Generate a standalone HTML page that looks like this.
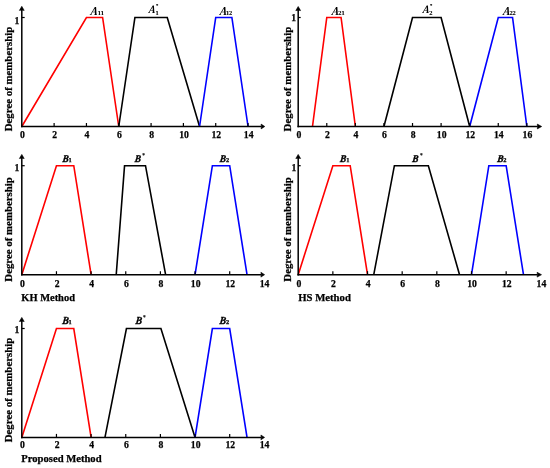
<!DOCTYPE html>
<html><head><meta charset="utf-8"><style>
html,body{margin:0;padding:0;background:#fff;}
body{width:550px;height:468px;overflow:hidden;}
svg{display:block;filter:blur(0.3px);}
svg text{font-family:'Liberation Serif', 'Times New Roman', serif;font-weight:bold;fill:#000;stroke:#000;stroke-width:0.25px;}
</style></head><body>
<svg width="550" height="468" viewBox="0 0 550 468">
<rect width="550" height="468" fill="#fff"/>
<polyline points="21.80,126.50 86.44,17.50 102.60,17.50 118.76,126.50" fill="none" stroke="#ff0000" stroke-width="1.6" stroke-linejoin="miter"/>
<polyline points="118.76,126.50 134.92,17.50 167.24,17.50 199.56,126.50" fill="none" stroke="#000000" stroke-width="1.6" stroke-linejoin="miter"/>
<polyline points="199.56,126.50 215.72,17.50 231.88,17.50 248.04,126.50" fill="none" stroke="#0000ff" stroke-width="1.6" stroke-linejoin="miter"/>
<line x1="21.80" y1="9.90" x2="21.80" y2="127.25" stroke="#000000" stroke-width="1.5"/>
<line x1="21.05" y1="126.50" x2="261.60" y2="126.50" stroke="#000000" stroke-width="1.5"/>
<polygon points="21.80,6.30 19.40,10.40 21.80,10.05 24.20,10.40" fill="#000" stroke="#000" stroke-width="0.6" stroke-linejoin="round"/>
<polygon points="264.80,126.50 261.10,124.10 261.45,126.50 261.10,128.90" fill="#000" stroke="#000" stroke-width="0.6" stroke-linejoin="round"/>
<line x1="21.80" y1="17.50" x2="24.70" y2="17.50" stroke="#000000" stroke-width="1.2"/>
<text x="17.00" y="24.30" font-size="9.7" text-anchor="middle" >1</text>
<line x1="54.12" y1="126.50" x2="54.12" y2="123.00" stroke="#000000" stroke-width="1.2"/>
<line x1="86.44" y1="126.50" x2="86.44" y2="123.00" stroke="#000000" stroke-width="1.2"/>
<line x1="118.76" y1="126.50" x2="118.76" y2="123.00" stroke="#000000" stroke-width="1.2"/>
<line x1="151.08" y1="126.50" x2="151.08" y2="123.00" stroke="#000000" stroke-width="1.2"/>
<line x1="183.40" y1="126.50" x2="183.40" y2="123.00" stroke="#000000" stroke-width="1.2"/>
<line x1="215.72" y1="126.50" x2="215.72" y2="123.00" stroke="#000000" stroke-width="1.2"/>
<line x1="248.04" y1="126.50" x2="248.04" y2="123.00" stroke="#000000" stroke-width="1.2"/>
<text x="22.40" y="137.80" font-size="9.7" text-anchor="middle" >0</text>
<text x="54.72" y="137.80" font-size="9.7" text-anchor="middle" >2</text>
<text x="87.04" y="137.80" font-size="9.7" text-anchor="middle" >4</text>
<text x="119.36" y="137.80" font-size="9.7" text-anchor="middle" >6</text>
<text x="151.68" y="137.80" font-size="9.7" text-anchor="middle" >8</text>
<text x="184.00" y="137.80" font-size="9.7" text-anchor="middle" >10</text>
<text x="216.32" y="137.80" font-size="9.7" text-anchor="middle" >12</text>
<text x="248.64" y="137.80" font-size="9.7" text-anchor="middle" >14</text>
<text x="0" y="0" font-size="10.85" text-anchor="middle" transform="translate(12.30,79.00) rotate(-90)">Degree of membership</text>
<polyline points="312.49,126.50 326.78,17.50 341.07,17.50 355.36,126.50" fill="none" stroke="#ff0000" stroke-width="1.6" stroke-linejoin="miter"/>
<polyline points="383.94,126.50 412.52,17.50 441.10,17.50 469.68,126.50" fill="none" stroke="#000000" stroke-width="1.6" stroke-linejoin="miter"/>
<polyline points="469.68,126.50 498.26,17.50 512.55,17.50 526.84,126.50" fill="none" stroke="#0000ff" stroke-width="1.6" stroke-linejoin="miter"/>
<line x1="298.20" y1="10.10" x2="298.20" y2="127.25" stroke="#000000" stroke-width="1.5"/>
<line x1="297.45" y1="126.50" x2="537.80" y2="126.50" stroke="#000000" stroke-width="1.5"/>
<polygon points="298.20,6.50 295.80,10.60 298.20,10.25 300.60,10.60" fill="#000" stroke="#000" stroke-width="0.6" stroke-linejoin="round"/>
<polygon points="541.70,126.50 537.30,124.10 537.65,126.50 537.30,128.90" fill="#000" stroke="#000" stroke-width="0.6" stroke-linejoin="round"/>
<line x1="298.20" y1="17.50" x2="300.70" y2="17.50" stroke="#000000" stroke-width="1.2"/>
<text x="293.70" y="21.20" font-size="9.7" text-anchor="middle" >1</text>
<line x1="326.78" y1="126.50" x2="326.78" y2="123.00" stroke="#000000" stroke-width="1.2"/>
<line x1="355.36" y1="126.50" x2="355.36" y2="123.00" stroke="#000000" stroke-width="1.2"/>
<line x1="383.94" y1="126.50" x2="383.94" y2="123.00" stroke="#000000" stroke-width="1.2"/>
<line x1="412.52" y1="126.50" x2="412.52" y2="123.00" stroke="#000000" stroke-width="1.2"/>
<line x1="441.10" y1="126.50" x2="441.10" y2="123.00" stroke="#000000" stroke-width="1.2"/>
<line x1="469.68" y1="126.50" x2="469.68" y2="123.00" stroke="#000000" stroke-width="1.2"/>
<line x1="498.26" y1="126.50" x2="498.26" y2="123.00" stroke="#000000" stroke-width="1.2"/>
<line x1="526.84" y1="126.50" x2="526.84" y2="123.00" stroke="#000000" stroke-width="1.2"/>
<text x="298.80" y="137.90" font-size="9.7" text-anchor="middle" >0</text>
<text x="327.38" y="137.90" font-size="9.7" text-anchor="middle" >2</text>
<text x="355.96" y="137.90" font-size="9.7" text-anchor="middle" >4</text>
<text x="384.54" y="137.90" font-size="9.7" text-anchor="middle" >6</text>
<text x="413.12" y="137.90" font-size="9.7" text-anchor="middle" >8</text>
<text x="441.70" y="137.90" font-size="9.7" text-anchor="middle" >10</text>
<text x="470.28" y="137.90" font-size="9.7" text-anchor="middle" >12</text>
<text x="498.86" y="137.90" font-size="9.7" text-anchor="middle" >14</text>
<text x="527.44" y="137.90" font-size="9.7" text-anchor="middle" >16</text>
<text x="0" y="0" font-size="10.85" text-anchor="middle" transform="translate(291.10,79.10) rotate(-90)">Degree of membership</text>
<polyline points="21.80,274.70 56.45,165.70 73.77,165.70 91.10,274.70" fill="none" stroke="#ff0000" stroke-width="1.6" stroke-linejoin="miter"/>
<polyline points="116.22,274.70 124.54,165.70 145.50,165.70 165.60,274.70" fill="none" stroke="#000000" stroke-width="1.6" stroke-linejoin="miter"/>
<polyline points="195.05,274.70 212.38,165.70 229.70,165.70 247.03,274.70" fill="none" stroke="#0000ff" stroke-width="1.6" stroke-linejoin="miter"/>
<line x1="21.80" y1="158.00" x2="21.80" y2="275.45" stroke="#000000" stroke-width="1.5"/>
<line x1="21.05" y1="274.70" x2="261.40" y2="274.70" stroke="#000000" stroke-width="1.5"/>
<polygon points="21.80,154.40 19.40,158.50 21.80,158.15 24.20,158.50" fill="#000" stroke="#000" stroke-width="0.6" stroke-linejoin="round"/>
<polygon points="264.60,274.70 260.90,272.30 261.25,274.70 260.90,277.10" fill="#000" stroke="#000" stroke-width="0.6" stroke-linejoin="round"/>
<line x1="21.80" y1="165.70" x2="24.70" y2="165.70" stroke="#000000" stroke-width="1.2"/>
<text x="16.80" y="171.40" font-size="9.7" text-anchor="middle" >1</text>
<line x1="56.45" y1="274.70" x2="56.45" y2="271.20" stroke="#000000" stroke-width="1.2"/>
<line x1="91.10" y1="274.70" x2="91.10" y2="271.20" stroke="#000000" stroke-width="1.2"/>
<line x1="125.75" y1="274.70" x2="125.75" y2="271.20" stroke="#000000" stroke-width="1.2"/>
<line x1="160.40" y1="274.70" x2="160.40" y2="271.20" stroke="#000000" stroke-width="1.2"/>
<line x1="195.05" y1="274.70" x2="195.05" y2="271.20" stroke="#000000" stroke-width="1.2"/>
<line x1="229.70" y1="274.70" x2="229.70" y2="271.20" stroke="#000000" stroke-width="1.2"/>
<text x="22.40" y="286.70" font-size="9.7" text-anchor="middle" >0</text>
<text x="57.05" y="286.70" font-size="9.7" text-anchor="middle" >2</text>
<text x="91.70" y="286.70" font-size="9.7" text-anchor="middle" >4</text>
<text x="126.35" y="286.70" font-size="9.7" text-anchor="middle" >6</text>
<text x="161.00" y="286.70" font-size="9.7" text-anchor="middle" >8</text>
<text x="195.65" y="286.70" font-size="9.7" text-anchor="middle" >10</text>
<text x="230.30" y="286.70" font-size="9.7" text-anchor="middle" >12</text>
<text x="264.50" y="286.70" font-size="9.7" text-anchor="middle" >14</text>
<text x="0" y="0" font-size="10.85" text-anchor="middle" transform="translate(12.30,229.40) rotate(-90)">Degree of membership</text>
<text x="21.30" y="301.20" font-size="10.45" text-anchor="start" >KH Method</text>
<polyline points="298.20,274.70 332.86,165.70 350.19,165.70 367.52,274.70" fill="none" stroke="#ff0000" stroke-width="1.6" stroke-linejoin="miter"/>
<polyline points="373.76,274.70 394.38,165.70 428.35,165.70 459.54,274.70" fill="none" stroke="#000000" stroke-width="1.6" stroke-linejoin="miter"/>
<polyline points="471.50,274.70 488.83,165.70 506.16,165.70 523.49,274.70" fill="none" stroke="#0000ff" stroke-width="1.6" stroke-linejoin="miter"/>
<line x1="298.20" y1="158.00" x2="298.20" y2="275.45" stroke="#000000" stroke-width="1.5"/>
<line x1="297.45" y1="274.70" x2="537.60" y2="274.70" stroke="#000000" stroke-width="1.5"/>
<polygon points="298.20,154.40 295.80,158.50 298.20,158.15 300.60,158.50" fill="#000" stroke="#000" stroke-width="0.6" stroke-linejoin="round"/>
<polygon points="541.50,274.70 537.10,272.30 537.45,274.70 537.10,277.10" fill="#000" stroke="#000" stroke-width="0.6" stroke-linejoin="round"/>
<line x1="298.20" y1="165.70" x2="300.70" y2="165.70" stroke="#000000" stroke-width="1.2"/>
<text x="293.80" y="171.30" font-size="9.7" text-anchor="middle" >1</text>
<line x1="332.86" y1="274.70" x2="332.86" y2="271.20" stroke="#000000" stroke-width="1.2"/>
<line x1="367.52" y1="274.70" x2="367.52" y2="271.20" stroke="#000000" stroke-width="1.2"/>
<line x1="402.18" y1="274.70" x2="402.18" y2="271.20" stroke="#000000" stroke-width="1.2"/>
<line x1="436.84" y1="274.70" x2="436.84" y2="271.20" stroke="#000000" stroke-width="1.2"/>
<line x1="471.50" y1="274.70" x2="471.50" y2="271.20" stroke="#000000" stroke-width="1.2"/>
<line x1="506.16" y1="274.70" x2="506.16" y2="271.20" stroke="#000000" stroke-width="1.2"/>
<text x="298.80" y="286.60" font-size="9.7" text-anchor="middle" >0</text>
<text x="333.46" y="286.60" font-size="9.7" text-anchor="middle" >2</text>
<text x="368.12" y="286.60" font-size="9.7" text-anchor="middle" >4</text>
<text x="402.78" y="286.60" font-size="9.7" text-anchor="middle" >6</text>
<text x="437.44" y="286.60" font-size="9.7" text-anchor="middle" >8</text>
<text x="472.10" y="286.60" font-size="9.7" text-anchor="middle" >10</text>
<text x="506.76" y="286.60" font-size="9.7" text-anchor="middle" >12</text>
<text x="541.40" y="286.60" font-size="9.7" text-anchor="middle" >14</text>
<text x="0" y="0" font-size="10.85" text-anchor="middle" transform="translate(291.10,229.40) rotate(-90)">Degree of membership</text>
<text x="298.20" y="300.60" font-size="10.72" text-anchor="start" >HS Method</text>
<polyline points="21.80,437.40 56.45,328.50 73.77,328.50 91.10,437.40" fill="none" stroke="#ff0000" stroke-width="1.6" stroke-linejoin="miter"/>
<polyline points="104.96,437.40 126.44,328.50 160.92,328.50 195.05,437.40" fill="none" stroke="#000000" stroke-width="1.6" stroke-linejoin="miter"/>
<polyline points="195.05,437.40 212.38,328.50 229.70,328.50 247.03,437.40" fill="none" stroke="#0000ff" stroke-width="1.6" stroke-linejoin="miter"/>
<line x1="21.80" y1="321.00" x2="21.80" y2="438.15" stroke="#000000" stroke-width="1.5"/>
<line x1="21.05" y1="437.40" x2="261.40" y2="437.40" stroke="#000000" stroke-width="1.5"/>
<polygon points="21.80,317.40 19.40,321.50 21.80,321.15 24.20,321.50" fill="#000" stroke="#000" stroke-width="0.6" stroke-linejoin="round"/>
<polygon points="264.60,437.40 260.90,435.00 261.25,437.40 260.90,439.80" fill="#000" stroke="#000" stroke-width="0.6" stroke-linejoin="round"/>
<line x1="21.80" y1="328.50" x2="24.70" y2="328.50" stroke="#000000" stroke-width="1.2"/>
<text x="16.80" y="333.30" font-size="9.7" text-anchor="middle" >1</text>
<line x1="56.45" y1="437.40" x2="56.45" y2="433.90" stroke="#000000" stroke-width="1.2"/>
<line x1="91.10" y1="437.40" x2="91.10" y2="433.90" stroke="#000000" stroke-width="1.2"/>
<line x1="125.75" y1="437.40" x2="125.75" y2="433.90" stroke="#000000" stroke-width="1.2"/>
<line x1="160.40" y1="437.40" x2="160.40" y2="433.90" stroke="#000000" stroke-width="1.2"/>
<line x1="195.05" y1="437.40" x2="195.05" y2="433.90" stroke="#000000" stroke-width="1.2"/>
<line x1="229.70" y1="437.40" x2="229.70" y2="433.90" stroke="#000000" stroke-width="1.2"/>
<text x="22.40" y="448.20" font-size="9.7" text-anchor="middle" >0</text>
<text x="57.05" y="448.20" font-size="9.7" text-anchor="middle" >2</text>
<text x="91.70" y="448.20" font-size="9.7" text-anchor="middle" >4</text>
<text x="126.35" y="448.20" font-size="9.7" text-anchor="middle" >6</text>
<text x="161.00" y="448.20" font-size="9.7" text-anchor="middle" >8</text>
<text x="195.65" y="448.20" font-size="9.7" text-anchor="middle" >10</text>
<text x="230.30" y="448.20" font-size="9.7" text-anchor="middle" >12</text>
<text x="264.50" y="448.20" font-size="9.7" text-anchor="middle" >14</text>
<text x="0" y="0" font-size="10.85" text-anchor="middle" transform="translate(12.30,390.00) rotate(-90)">Degree of membership</text>
<text x="21.30" y="462.40" font-size="10.62" text-anchor="start" >Proposed Method</text>
<text x="0" y="0" font-size="12.1" font-style="italic" transform="translate(90.20,14.60) skewX(-7) scale(0.9,1)" style="stroke-width:0.0px">A</text>
<text x="97.80" y="14.60" font-size="6.4" style="stroke-width:0.1px">11</text>
<text x="0" y="0" font-size="11.2" font-style="italic" transform="translate(148.50,12.70) skewX(-7) scale(0.9,1)" style="stroke-width:0.0px">A</text>
<text x="155.60" y="15.00" font-size="6.4" style="stroke-width:0.1px">1</text>
<text x="156.10" y="6.60" font-size="4.6" style="stroke-width:0.1px">*</text>
<text x="0" y="0" font-size="12.1" font-style="italic" transform="translate(219.40,14.60) skewX(-7) scale(0.9,1)" style="stroke-width:0.0px">A</text>
<text x="225.90" y="14.60" font-size="6.4" style="stroke-width:0.1px">12</text>
<text x="0" y="0" font-size="12.1" font-style="italic" transform="translate(331.60,14.60) skewX(-7) scale(0.9,1)" style="stroke-width:0.0px">A</text>
<text x="338.30" y="14.60" font-size="6.4" style="stroke-width:0.1px">21</text>
<text x="0" y="0" font-size="11.2" font-style="italic" transform="translate(422.50,12.70) skewX(-7) scale(0.9,1)" style="stroke-width:0.0px">A</text>
<text x="429.30" y="15.00" font-size="6.4" style="stroke-width:0.1px">2</text>
<text x="429.90" y="6.60" font-size="4.6" style="stroke-width:0.1px">*</text>
<text x="0" y="0" font-size="12.1" font-style="italic" transform="translate(502.80,14.60) skewX(-7) scale(0.9,1)" style="stroke-width:0.0px">A</text>
<text x="509.40" y="14.60" font-size="6.4" style="stroke-width:0.1px">22</text>
<text x="0" y="0" font-size="10.2" font-style="italic" transform="translate(62.30,161.60) skewX(-7) scale(0.9,1)" style="stroke-width:0.35px">B</text>
<text x="68.60" y="161.60" font-size="6.4" style="stroke-width:0.25px">1</text>
<text x="0" y="0" font-size="10.2" font-style="italic" transform="translate(134.50,161.60) skewX(-7) scale(0.9,1)" style="stroke-width:0.35px">B</text>
<text x="142.20" y="156.50" font-size="5.5" style="stroke-width:0.1px">*</text>
<text x="0" y="0" font-size="10.2" font-style="italic" transform="translate(219.60,161.60) skewX(-7) scale(0.9,1)" style="stroke-width:0.35px">B</text>
<text x="226.00" y="161.60" font-size="6.4" style="stroke-width:0.25px">2</text>
<text x="0" y="0" font-size="10.2" font-style="italic" transform="translate(339.80,161.60) skewX(-7) scale(0.9,1)" style="stroke-width:0.35px">B</text>
<text x="346.20" y="161.60" font-size="6.4" style="stroke-width:0.25px">1</text>
<text x="0" y="0" font-size="10.2" font-style="italic" transform="translate(411.90,161.60) skewX(-7) scale(0.9,1)" style="stroke-width:0.35px">B</text>
<text x="420.00" y="156.90" font-size="5.5" style="stroke-width:0.1px">*</text>
<text x="0" y="0" font-size="10.2" font-style="italic" transform="translate(496.90,161.60) skewX(-7) scale(0.9,1)" style="stroke-width:0.35px">B</text>
<text x="503.30" y="161.60" font-size="6.4" style="stroke-width:0.25px">2</text>
<text x="0" y="0" font-size="10.8" font-style="italic" transform="translate(135.20,323.60) skewX(-7) scale(0.9,1)" style="stroke-width:0.35px">B</text>
<text x="143.10" y="318.80" font-size="5.5" style="stroke-width:0.1px">*</text>
<text x="0" y="0" font-size="10.8" font-style="italic" transform="translate(62.00,323.60) skewX(-7) scale(0.9,1)" style="stroke-width:0.35px">B</text>
<text x="68.60" y="323.60" font-size="6.4" style="stroke-width:0.25px">1</text>
<text x="0" y="0" font-size="10.8" font-style="italic" transform="translate(219.30,323.60) skewX(-7) scale(0.9,1)" style="stroke-width:0.35px">B</text>
<text x="226.00" y="323.60" font-size="6.4" style="stroke-width:0.25px">2</text>
</svg>
</body></html>
